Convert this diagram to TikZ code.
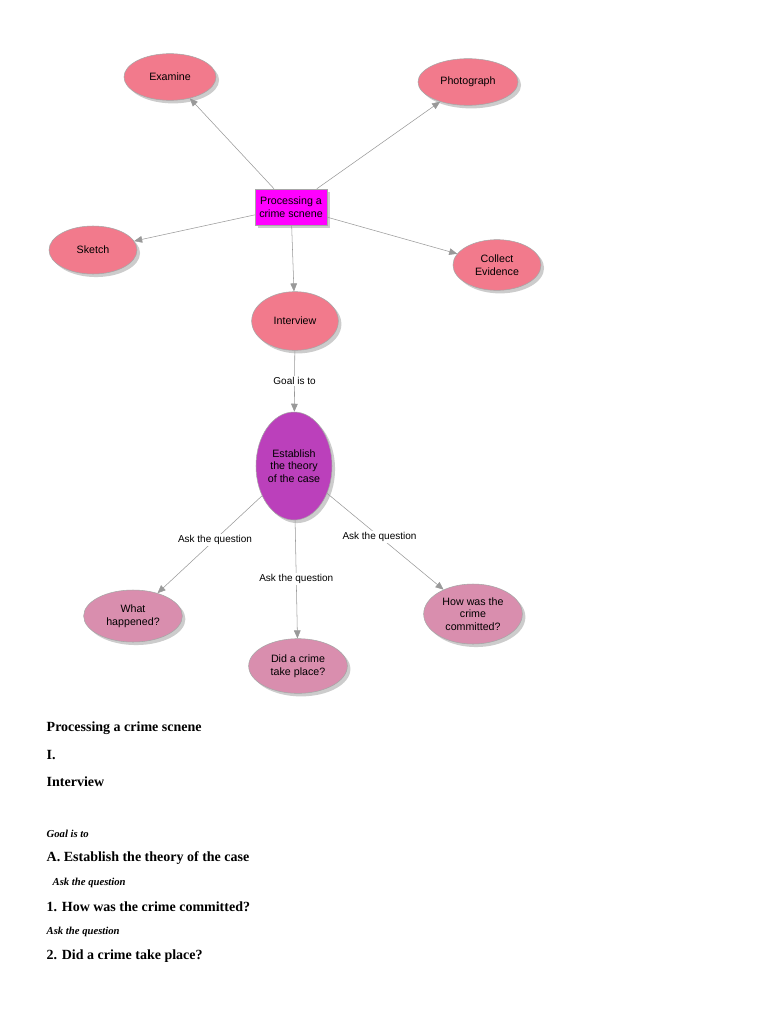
\documentclass[tikz,border=0pt]{standalone}
\usepackage{fontspec}
\setmainfont{Liberation Serif}
\newfontfamily\mapfont{Liberation Sans}
\usepackage{tikz}
\usepackage{xcolor}
\usetikzlibrary{shapes.geometric, arrows.meta, positioning, shadows}

\definecolor{topic}{HTML}{F27A8C}
\definecolor{central}{HTML}{FF00FF}
\definecolor{theory}{HTML}{BB40BB}
\definecolor{question}{HTML}{D98EAE}

\tikzset{
  bubble/.style={ellipse, draw=gray!70, fill=topic, drop shadow={opacity=0.4},
    font=\mapfont\fontsize{8}{9.5}\selectfont, align=center, inner sep=0pt},
  link/.style={draw=gray!80, -{Triangle[length=6pt,width=5pt]}, thin},
  tag/.style={font=\mapfont\fontsize{7.5}{9}\selectfont, fill=white, inner sep=1pt},
  line/.style={anchor=west, font=\bfseries\fontsize{10.5}{12}\selectfont},
  ital/.style={anchor=west, font=\bfseries\itshape\fontsize{8}{9}\selectfont}
}

\begin{document}
\begin{tikzpicture}[x=0.75pt, y=-0.75pt]
\useasboundingbox[fill=white] (0,0) rectangle (768,1024);
% Concept map
\node[draw=gray!70, fill=central, drop shadow={opacity=0.4}, font=\mapfont\fontsize{8}{9.5}\selectfont,
  align=center, minimum width=54pt, minimum height=27pt, inner sep=1pt] (scene) at (291,207) {Processing a\\crime scnene};
\node[bubble, minimum width=69pt, minimum height=35pt] (examine) at (170,77) {Examine};
\node[bubble, minimum width=75pt, minimum height=35pt] (photo) at (468,82) {Photograph};
\node[bubble, minimum width=66pt, minimum height=36pt] (sketch) at (93,250) {Sketch};
\node[bubble, minimum width=66pt, minimum height=38pt] (collect) at (497,265) {Collect\\Evidence};
\node[bubble, minimum width=65pt, minimum height=44pt] (interview) at (295,321) {Interview};
\node[bubble, fill=theory, minimum width=57pt, minimum height=81pt] (theory) at (294,466) {Establish\\the theory\\of the case};
\node[bubble, fill=question, minimum width=74pt, minimum height=39pt] (what) at (133,616) {What\\happened?};
\node[bubble, fill=question, minimum width=74pt, minimum height=41pt] (did) at (298,666) {Did a crime\\take place?};
\node[bubble, fill=question, minimum width=74pt, minimum height=45pt] (how) at (473,614) {How was the\\crime\\committed?};

\draw[link] (scene) -- (examine);
\draw[link] (scene) -- (photo);
\draw[link] (scene) -- (sketch);
\draw[link] (scene) -- (collect);
\draw[link] (scene) -- (interview);
\draw[link] (interview) -- node[tag] {Goal is to} (theory);
\draw[link] (theory) -- node[tag, pos=0.45] {Ask the question} (what);
\draw[link] (theory) -- node[tag, pos=0.5] {Ask the question} (did);
\draw[link] (theory) -- node[tag, pos=0.45] {Ask the question} (how);

% Outline text
\node[line] (t1) at (42,728) {Processing a crime scnene};
\node[line] (t2) at (42,755) {I.};
\node[line] (t3) at (42,782) {Interview};
\node[ital] (t4) at (42,834) {Goal is to};
\node[line] (t5) at (42,858) {A. Establish the theory of the case};
\node[ital] (t6) at (48,883) {Ask the question};
\node[line] (t7) at (42,907) {1. How was the crime committed?};
\node[ital] (t8) at (42,932) {Ask the question};
\node[line] (t9) at (42,956) {2. Did a crime take place?};
\end{tikzpicture}
\end{document}
